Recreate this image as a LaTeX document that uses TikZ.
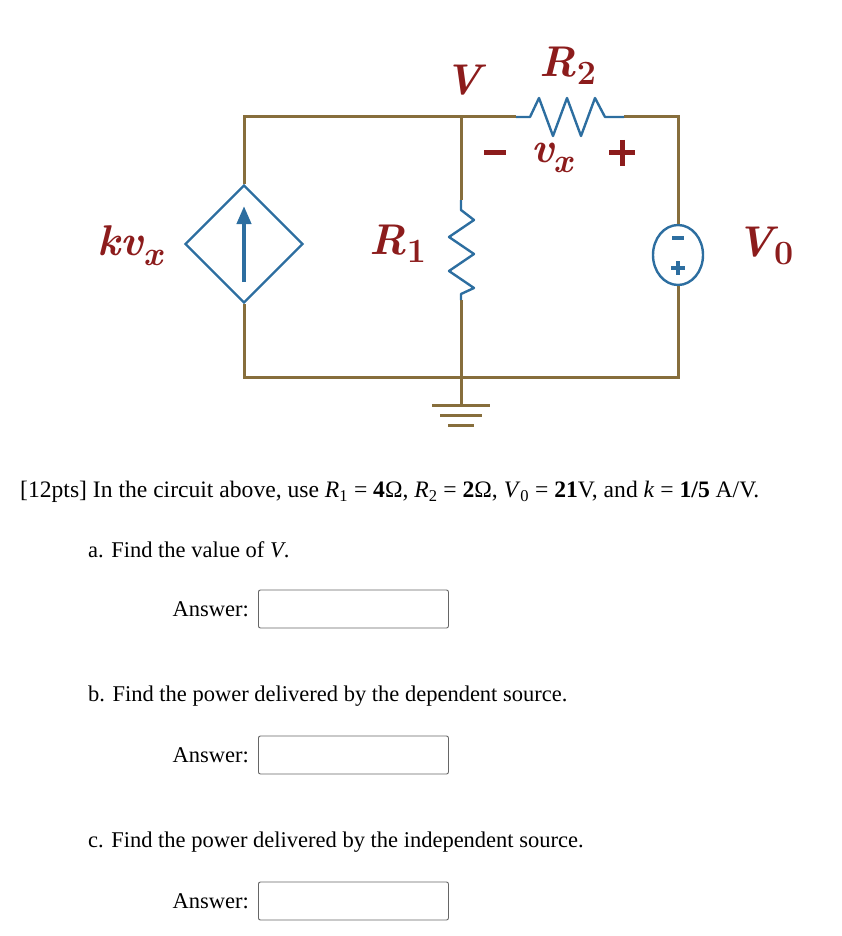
\documentclass[tikz,border=0pt]{standalone}
\usepackage{fontspec}
\setmainfont{Liberation Serif}
\newfontfamily\lmfont{Latin Modern Roman}
\usetikzlibrary{shapes.geometric,arrows.meta}
\definecolor{wire}{RGB}{135,110,60}
\definecolor{cblue}{RGB}{45,110,160}
\definecolor{cred}{RGB}{140,28,28}
\tikzset{w/.style={wire,line width=3pt},
comp/.style={cblue,line width=2.4pt},
lab/.style={cred,font=\fontsize{43}{43}\lmfont\bfseries\itshape},
txt/.style={font=\fontsize{22.5}{26}\selectfont,anchor=west,inner sep=0},
abox/.style={draw=black!60,line width=0.9pt,rounded corners=2pt,minimum width=190pt,minimum height=38pt,anchor=west}}
\newcommand{\sbs}[1]{\raisebox{-8pt}{\fontsize{34}{34}\lmfont\bfseries\upshape #1}}
\newcommand{\sbx}[1]{\raisebox{-10pt}{\fontsize{34}{34}\lmfont\bfseries\itshape #1}}
\begin{document}
\begin{tikzpicture}[x=1pt,y=-1pt]
\useasboundingbox (0,0) rectangle (842,936);
\coordinate (TL) at (244,117); \coordinate (TM) at (461,117); \coordinate (TR) at (678,117);
\coordinate (BL) at (244,377); \coordinate (BM) at (461,377); \coordinate (BR) at (678,377);
\node[draw=cblue,line width=2.4pt,diamond,minimum width=118pt,minimum height=118pt,inner sep=0] (ds) at (244,244) {};
\draw[cblue,line width=4pt,-{Triangle[length=18pt,width=14pt]}] (244,282) -- (244,206);
\node[draw=cblue,line width=2.4pt,ellipse,minimum width=50pt,minimum height=60pt,inner sep=0] (vs) at (678,255) {};
\draw[cblue,line width=3.5pt] (672,238)--(684,238) (671,268)--(685,268) (678,261)--(678,275);
\coordinate (r1a) at (461,200); \coordinate (r1b) at (461,300);
\coordinate (r2a) at (516,117); \coordinate (r2b) at (624,117);
\draw[w] (ds.north) -- (TL) -- (TM) -- (r2a);
\draw[w] (r2b) -- (TR) -- (vs.north);
\draw[w] (vs.south) -- (BR) -- (BL) -- (ds.south);
\draw[w] (TM) -- (r1a); \draw[w] (r1b) -- (BM) -- (461,405);
\draw[comp,line join=round] (r1a)--(461,210)--(474,220)--(449,237)--(474,254)--(449,271)--(474,288)--(461,294)--(r1b);
\draw[comp,line join=round] (r2a)--(530,117)--(539,98)--(553,136)--(567,98)--(581,136)--(595,98)--(605,117)--(r2b);
\draw[w] (432,405)--(490,405) (440,415)--(482,415) (448,425)--(474,425);
\node[lab] (lV) at (463,80) {V};
\node[lab] (lR2) at (568,66) {R\sbs{2}};
\node[lab] (lvx) at (552,158) {v\sbx{x}};
\draw[cred,line width=5pt] (484,153)--(506,153) (609,153)--(635,153) (622,140)--(622,166);
\node[lab] (lR1) at (398,244) {R\sbs{1}};
\node[lab] (lk) at (130,246) {kv\sbx{x}};
\node[lab] (lV0) at (765,246) {V\sbs{0}};
\node[txt,font=\fontsize{23.6}{26}\selectfont] (q) at (20,492) {[12pts] In the circuit above, use \textit{R}\textsubscript{1} = \textbf{4}Ω, \textit{R}\textsubscript{2} = \textbf{2}Ω, \textit{V}\textsubscript{0} = \textbf{21}V, and \textit{k} = \textbf{1/5} A/V.};
\node[txt] (qa) at (88,550) {a. Find the value of \textit{V}.};
\node[txt,anchor=east] (aa) at (249,609) {Answer:};
\node[abox] (ba) at (258,609) {};
\node[txt] (qb) at (88,696) {b. Find the power delivered by the dependent source.};
\node[txt,anchor=east] (ab) at (249,755) {Answer:};
\node[abox] (bb) at (258,755) {};
\node[txt] (qc) at (88,842) {c. Find the power delivered by the independent source.};
\node[txt,anchor=east] (ac) at (249,901) {Answer:};
\node[abox] (bc) at (258,901) {};
\end{tikzpicture}
\end{document}
